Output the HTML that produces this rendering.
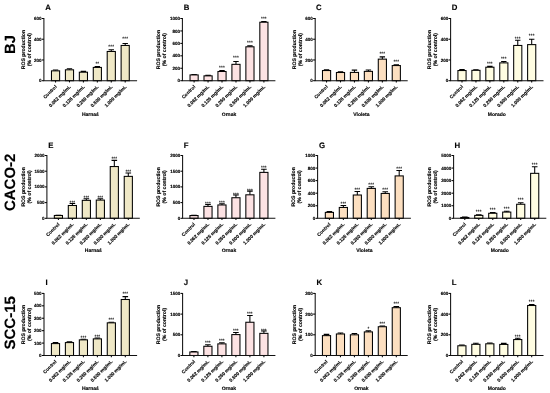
<!DOCTYPE html><html><head><meta charset="utf-8"><title>ROS production</title><style>html,body{margin:0;padding:0;background:#fff}svg{display:block}text{text-rendering:geometricPrecision;font-family:"Liberation Sans",Arial,sans-serif;font-weight:bold;fill:#000;stroke:#000;stroke-width:0.13px}.st{stroke:#000;stroke-width:0.12px;fill:#000;font-weight:normal}</style></head><body>
<svg width="550" height="393" viewBox="0 0 550 393">
<rect width="550" height="393" fill="#fff"/>
<text transform="translate(14.5,44.5) rotate(-90)" text-anchor="middle" font-size="14.8">BJ</text>
<text transform="translate(14.6,182.3) rotate(-90)" text-anchor="middle" font-size="15">CACO-2</text>
<text transform="translate(14.6,322.8) rotate(-90)" text-anchor="middle" font-size="15">SCC-15</text>
<g><text x="48.1" y="10.1" font-size="7.8" text-anchor="middle">A</text><path d="M55.55 70.85V70.02M52.85 70.02H58.25" stroke="#000" stroke-width="1.05" fill="none"/><rect x="51.47" y="70.85" width="8.15" height="9.85" fill="#efe8c6" stroke="#000" stroke-width="1.05"/><path d="M55.55 80.70v1.7" stroke="#000" stroke-width="1.05"/><text transform="translate(54.75,84.80) rotate(-45)" text-anchor="end" font-size="4.75" dy="0.7em">Control</text><path d="M69.48 69.81V68.78M66.78 68.78H72.18" stroke="#000" stroke-width="1.05" fill="none"/><rect x="65.41" y="69.81" width="8.15" height="10.89" fill="#efe8c6" stroke="#000" stroke-width="1.05"/><path d="M69.48 80.70v1.7" stroke="#000" stroke-width="1.05"/><text transform="translate(68.68,84.80) rotate(-45)" text-anchor="end" font-size="4.75" dy="0.7em">0.062 mg/mL</text><path d="M83.41 72.20V71.37M80.71 71.37H86.11" stroke="#000" stroke-width="1.05" fill="none"/><rect x="79.33" y="72.20" width="8.15" height="8.50" fill="#efe8c6" stroke="#000" stroke-width="1.05"/><path d="M83.41 80.70v1.7" stroke="#000" stroke-width="1.05"/><text transform="translate(82.61,84.80) rotate(-45)" text-anchor="end" font-size="4.75" dy="0.7em">0.125 mg/mL</text><path d="M97.34 67.43V66.60M94.64 66.60H100.04" stroke="#000" stroke-width="1.05" fill="none"/><rect x="93.27" y="67.43" width="8.15" height="13.27" fill="#efe8c6" stroke="#000" stroke-width="1.05"/><path d="M97.34 80.70v1.7" stroke="#000" stroke-width="1.05"/><text class="st" x="97.34" y="64.75" font-size="4.6" letter-spacing="0.16" text-anchor="middle">**</text><text transform="translate(96.54,84.80) rotate(-45)" text-anchor="end" font-size="4.75" dy="0.7em">0.250 mg/mL</text><path d="M111.27 51.47V49.81M108.57 49.81H113.97" stroke="#000" stroke-width="1.05" fill="none"/><rect x="107.20" y="51.47" width="8.15" height="29.23" fill="#efe8c6" stroke="#000" stroke-width="1.05"/><path d="M111.27 80.70v1.7" stroke="#000" stroke-width="1.05"/><text class="st" x="111.27" y="48.40" font-size="4.6" letter-spacing="0.16" text-anchor="middle">***</text><text transform="translate(110.47,84.80) rotate(-45)" text-anchor="end" font-size="4.75" dy="0.7em">0.500 mg/mL</text><path d="M125.20 45.45V43.59M122.50 43.59H127.90" stroke="#000" stroke-width="1.05" fill="none"/><rect x="121.12" y="45.45" width="8.15" height="35.25" fill="#efe8c6" stroke="#000" stroke-width="1.05"/><path d="M125.20 80.70v1.7" stroke="#000" stroke-width="1.05"/><text class="st" x="125.20" y="39.85" font-size="4.6" letter-spacing="0.16" text-anchor="middle">***</text><text transform="translate(124.40,84.80) rotate(-45)" text-anchor="end" font-size="4.75" dy="0.7em">1.000 mg/mL</text><path d="M43.90 18.05V80.70H137.10" stroke="#111" stroke-width="1.05" fill="none"/><path d="M43.90 80.70h-2.1" stroke="#000" stroke-width="1.05"/><text x="41.50" y="80.70" font-size="4.5" text-anchor="end" dy="0.35em">0</text><path d="M43.90 59.97h-2.1" stroke="#000" stroke-width="1.05"/><text x="41.50" y="59.97" font-size="4.5" text-anchor="end" dy="0.35em">200</text><path d="M43.90 39.23h-2.1" stroke="#000" stroke-width="1.05"/><text x="41.50" y="39.23" font-size="4.5" text-anchor="end" dy="0.35em">400</text><path d="M43.90 18.50h-2.1" stroke="#000" stroke-width="1.05"/><text x="41.50" y="18.50" font-size="4.5" text-anchor="end" dy="0.35em">600</text><text transform="translate(22.9,49.60) rotate(-90)" text-anchor="middle" font-size="5.15" dy="0.35em">ROS production</text><text transform="translate(28.9,49.60) rotate(-90)" text-anchor="middle" font-size="5.15" dy="0.35em">(% of control)</text><text x="90.38" y="115.6" font-size="5.0" text-anchor="middle">Harnaś</text></g>
<g><text x="186.6" y="10.1" font-size="7.8" text-anchor="middle">B</text><path d="M194.10 74.92V74.48M191.40 74.48H196.80" stroke="#000" stroke-width="1.05" fill="none"/><rect x="190.03" y="74.92" width="8.15" height="5.78" fill="#fce2e3" stroke="#000" stroke-width="1.05"/><path d="M194.10 80.70v1.7" stroke="#000" stroke-width="1.05"/><text transform="translate(193.30,84.80) rotate(-45)" text-anchor="end" font-size="4.75" dy="0.7em">Control</text><path d="M208.06 75.85V75.35M205.36 75.35H210.76" stroke="#000" stroke-width="1.05" fill="none"/><rect x="203.99" y="75.85" width="8.15" height="4.85" fill="#fce2e3" stroke="#000" stroke-width="1.05"/><path d="M208.06 80.70v1.7" stroke="#000" stroke-width="1.05"/><text transform="translate(207.26,84.80) rotate(-45)" text-anchor="end" font-size="4.75" dy="0.7em">0.062 mg/mL</text><path d="M222.02 71.49V70.56M219.32 70.56H224.72" stroke="#000" stroke-width="1.05" fill="none"/><rect x="217.94" y="71.49" width="8.15" height="9.21" fill="#fce2e3" stroke="#000" stroke-width="1.05"/><path d="M222.02 80.70v1.7" stroke="#000" stroke-width="1.05"/><text class="st" x="222.02" y="68.85" font-size="4.6" letter-spacing="0.16" text-anchor="middle">***</text><text transform="translate(221.22,84.80) rotate(-45)" text-anchor="end" font-size="4.75" dy="0.7em">0.125 mg/mL</text><path d="M235.98 64.34V61.54M233.28 61.54H238.68" stroke="#000" stroke-width="1.05" fill="none"/><rect x="231.91" y="64.34" width="8.15" height="16.36" fill="#fce2e3" stroke="#000" stroke-width="1.05"/><path d="M235.98 80.70v1.7" stroke="#000" stroke-width="1.05"/><text class="st" x="235.98" y="59.25" font-size="4.6" letter-spacing="0.16" text-anchor="middle">***</text><text transform="translate(235.18,84.80) rotate(-45)" text-anchor="end" font-size="4.75" dy="0.7em">0.250 mg/mL</text><path d="M249.94 46.80V45.87M247.24 45.87H252.64" stroke="#000" stroke-width="1.05" fill="none"/><rect x="245.87" y="46.80" width="8.15" height="33.90" fill="#fce2e3" stroke="#000" stroke-width="1.05"/><path d="M249.94 80.70v1.7" stroke="#000" stroke-width="1.05"/><text class="st" x="249.94" y="44.40" font-size="4.6" letter-spacing="0.16" text-anchor="middle">***</text><text transform="translate(249.14,84.80) rotate(-45)" text-anchor="end" font-size="4.75" dy="0.7em">0.500 mg/mL</text><path d="M263.90 22.23V21.49M261.20 21.49H266.60" stroke="#000" stroke-width="1.05" fill="none"/><rect x="259.82" y="22.23" width="8.15" height="58.47" fill="#fce2e3" stroke="#000" stroke-width="1.05"/><path d="M263.90 80.70v1.7" stroke="#000" stroke-width="1.05"/><text class="st" x="263.90" y="19.55" font-size="4.6" letter-spacing="0.16" text-anchor="middle">***</text><text transform="translate(263.10,84.80) rotate(-45)" text-anchor="end" font-size="4.75" dy="0.7em">1.000 mg/mL</text><path d="M182.40 18.05V80.70H275.40" stroke="#111" stroke-width="1.05" fill="none"/><path d="M182.40 80.70h-2.1" stroke="#000" stroke-width="1.05"/><text x="180.00" y="80.70" font-size="4.5" text-anchor="end" dy="0.35em">0</text><path d="M182.40 68.26h-2.1" stroke="#000" stroke-width="1.05"/><text x="180.00" y="68.26" font-size="4.5" text-anchor="end" dy="0.35em">200</text><path d="M182.40 55.82h-2.1" stroke="#000" stroke-width="1.05"/><text x="180.00" y="55.82" font-size="4.5" text-anchor="end" dy="0.35em">400</text><path d="M182.40 43.38h-2.1" stroke="#000" stroke-width="1.05"/><text x="180.00" y="43.38" font-size="4.5" text-anchor="end" dy="0.35em">600</text><path d="M182.40 30.94h-2.1" stroke="#000" stroke-width="1.05"/><text x="180.00" y="30.94" font-size="4.5" text-anchor="end" dy="0.35em">800</text><path d="M182.40 18.50h-2.1" stroke="#000" stroke-width="1.05"/><text x="180.00" y="18.50" font-size="4.5" text-anchor="end" dy="0.35em">1000</text><text transform="translate(158.4,49.60) rotate(-90)" text-anchor="middle" font-size="5.15" dy="0.35em">ROS production</text><text transform="translate(164.4,49.60) rotate(-90)" text-anchor="middle" font-size="5.15" dy="0.35em">(% of control)</text><text x="229.00" y="115.6" font-size="5.0" text-anchor="middle">Ornak</text></g>
<g><text x="318.9" y="10.1" font-size="7.8" text-anchor="middle">C</text><path d="M326.55 70.54V69.81M323.85 69.81H329.25" stroke="#000" stroke-width="1.05" fill="none"/><rect x="322.48" y="70.54" width="8.15" height="10.16" fill="#fcdfc0" stroke="#000" stroke-width="1.05"/><path d="M326.55 80.70v1.7" stroke="#000" stroke-width="1.05"/><text transform="translate(325.75,84.80) rotate(-45)" text-anchor="end" font-size="4.75" dy="0.7em">Control</text><path d="M340.50 72.51V71.78M337.80 71.78H343.20" stroke="#000" stroke-width="1.05" fill="none"/><rect x="336.43" y="72.51" width="8.15" height="8.19" fill="#fcdfc0" stroke="#000" stroke-width="1.05"/><path d="M340.50 80.70v1.7" stroke="#000" stroke-width="1.05"/><text transform="translate(339.70,84.80) rotate(-45)" text-anchor="end" font-size="4.75" dy="0.7em">0.062 mg/mL</text><path d="M354.45 72.41V70.13M351.75 70.13H357.15" stroke="#000" stroke-width="1.05" fill="none"/><rect x="350.38" y="72.41" width="8.15" height="8.29" fill="#fcdfc0" stroke="#000" stroke-width="1.05"/><path d="M354.45 80.70v1.7" stroke="#000" stroke-width="1.05"/><text transform="translate(353.65,84.80) rotate(-45)" text-anchor="end" font-size="4.75" dy="0.7em">0.125 mg/mL</text><path d="M368.40 71.37V69.92M365.70 69.92H371.10" stroke="#000" stroke-width="1.05" fill="none"/><rect x="364.32" y="71.37" width="8.15" height="9.33" fill="#fcdfc0" stroke="#000" stroke-width="1.05"/><path d="M368.40 80.70v1.7" stroke="#000" stroke-width="1.05"/><text transform="translate(367.60,84.80) rotate(-45)" text-anchor="end" font-size="4.75" dy="0.7em">0.250 mg/mL</text><path d="M382.35 59.14V56.86M379.65 56.86H385.05" stroke="#000" stroke-width="1.05" fill="none"/><rect x="378.28" y="59.14" width="8.15" height="21.56" fill="#fcdfc0" stroke="#000" stroke-width="1.05"/><path d="M382.35 80.70v1.7" stroke="#000" stroke-width="1.05"/><text class="st" x="382.35" y="55.05" font-size="4.6" letter-spacing="0.16" text-anchor="middle">***</text><text transform="translate(381.55,84.80) rotate(-45)" text-anchor="end" font-size="4.75" dy="0.7em">0.500 mg/mL</text><path d="M396.30 65.56V64.74M393.60 64.74H399.00" stroke="#000" stroke-width="1.05" fill="none"/><rect x="392.23" y="65.56" width="8.15" height="15.14" fill="#fcdfc0" stroke="#000" stroke-width="1.05"/><path d="M396.30 80.70v1.7" stroke="#000" stroke-width="1.05"/><text class="st" x="396.30" y="63.45" font-size="4.6" letter-spacing="0.16" text-anchor="middle">***</text><text transform="translate(395.50,84.80) rotate(-45)" text-anchor="end" font-size="4.75" dy="0.7em">1.000 mg/mL</text><path d="M315.20 18.05V80.70H407.70" stroke="#111" stroke-width="1.05" fill="none"/><path d="M315.20 80.70h-2.1" stroke="#000" stroke-width="1.05"/><text x="312.80" y="80.70" font-size="4.5" text-anchor="end" dy="0.35em">0</text><path d="M315.20 59.97h-2.1" stroke="#000" stroke-width="1.05"/><text x="312.80" y="59.97" font-size="4.5" text-anchor="end" dy="0.35em">200</text><path d="M315.20 39.23h-2.1" stroke="#000" stroke-width="1.05"/><text x="312.80" y="39.23" font-size="4.5" text-anchor="end" dy="0.35em">400</text><path d="M315.20 18.50h-2.1" stroke="#000" stroke-width="1.05"/><text x="312.80" y="18.50" font-size="4.5" text-anchor="end" dy="0.35em">600</text><text transform="translate(294.2,49.60) rotate(-90)" text-anchor="middle" font-size="5.15" dy="0.35em">ROS production</text><text transform="translate(300.2,49.60) rotate(-90)" text-anchor="middle" font-size="5.15" dy="0.35em">(% of control)</text><text x="361.43" y="115.6" font-size="5.0" text-anchor="middle">Violeta</text></g>
<g><text x="454.5" y="10.1" font-size="7.8" text-anchor="middle">D</text><path d="M462.00 70.54V69.50M459.30 69.50H464.70" stroke="#000" stroke-width="1.05" fill="none"/><rect x="457.93" y="70.54" width="8.15" height="10.16" fill="#fffde2" stroke="#000" stroke-width="1.05"/><path d="M462.00 80.70v1.7" stroke="#000" stroke-width="1.05"/><text transform="translate(461.20,84.80) rotate(-45)" text-anchor="end" font-size="4.75" dy="0.7em">Control</text><path d="M475.94 70.33V69.81M473.24 69.81H478.64" stroke="#000" stroke-width="1.05" fill="none"/><rect x="471.87" y="70.33" width="8.15" height="10.37" fill="#fffde2" stroke="#000" stroke-width="1.05"/><path d="M475.94 80.70v1.7" stroke="#000" stroke-width="1.05"/><text transform="translate(475.14,84.80) rotate(-45)" text-anchor="end" font-size="4.75" dy="0.7em">0.062 mg/mL</text><path d="M489.88 67.22V66.39M487.18 66.39H492.58" stroke="#000" stroke-width="1.05" fill="none"/><rect x="485.81" y="67.22" width="8.15" height="13.48" fill="#fffde2" stroke="#000" stroke-width="1.05"/><path d="M489.88 80.70v1.7" stroke="#000" stroke-width="1.05"/><text class="st" x="489.88" y="64.95" font-size="4.6" letter-spacing="0.16" text-anchor="middle">***</text><text transform="translate(489.08,84.80) rotate(-45)" text-anchor="end" font-size="4.75" dy="0.7em">0.125 mg/mL</text><path d="M503.82 62.87V61.52M501.12 61.52H506.52" stroke="#000" stroke-width="1.05" fill="none"/><rect x="499.75" y="62.87" width="8.15" height="17.83" fill="#fffde2" stroke="#000" stroke-width="1.05"/><path d="M503.82 80.70v1.7" stroke="#000" stroke-width="1.05"/><text class="st" x="503.82" y="59.65" font-size="4.6" letter-spacing="0.16" text-anchor="middle">***</text><text transform="translate(503.02,84.80) rotate(-45)" text-anchor="end" font-size="4.75" dy="0.7em">0.250 mg/mL</text><path d="M517.76 45.45V40.27M515.06 40.27H520.46" stroke="#000" stroke-width="1.05" fill="none"/><rect x="513.68" y="45.45" width="8.15" height="35.25" fill="#fffde2" stroke="#000" stroke-width="1.05"/><path d="M517.76 80.70v1.7" stroke="#000" stroke-width="1.05"/><text class="st" x="517.76" y="39.95" font-size="4.6" letter-spacing="0.16" text-anchor="middle">***</text><text transform="translate(516.96,84.80) rotate(-45)" text-anchor="end" font-size="4.75" dy="0.7em">0.500 mg/mL</text><path d="M531.70 44.62V39.23M529.00 39.23H534.40" stroke="#000" stroke-width="1.05" fill="none"/><rect x="527.62" y="44.62" width="8.15" height="36.08" fill="#fffde2" stroke="#000" stroke-width="1.05"/><path d="M531.70 80.70v1.7" stroke="#000" stroke-width="1.05"/><text class="st" x="531.70" y="37.05" font-size="4.6" letter-spacing="0.16" text-anchor="middle">***</text><text transform="translate(530.90,84.80) rotate(-45)" text-anchor="end" font-size="4.75" dy="0.7em">1.000 mg/mL</text><path d="M450.60 18.05V80.70H543.50" stroke="#111" stroke-width="1.05" fill="none"/><path d="M450.60 80.70h-2.1" stroke="#000" stroke-width="1.05"/><text x="448.20" y="80.70" font-size="4.5" text-anchor="end" dy="0.35em">0</text><path d="M450.60 59.97h-2.1" stroke="#000" stroke-width="1.05"/><text x="448.20" y="59.97" font-size="4.5" text-anchor="end" dy="0.35em">200</text><path d="M450.60 39.23h-2.1" stroke="#000" stroke-width="1.05"/><text x="448.20" y="39.23" font-size="4.5" text-anchor="end" dy="0.35em">400</text><path d="M450.60 18.50h-2.1" stroke="#000" stroke-width="1.05"/><text x="448.20" y="18.50" font-size="4.5" text-anchor="end" dy="0.35em">600</text><text transform="translate(429.6,49.60) rotate(-90)" text-anchor="middle" font-size="5.15" dy="0.35em">ROS production</text><text transform="translate(435.6,49.60) rotate(-90)" text-anchor="middle" font-size="5.15" dy="0.35em">(% of control)</text><text x="496.85" y="115.6" font-size="5.0" text-anchor="middle">Morado</text></g>
<g><text x="50.8" y="147.7" font-size="7.8" text-anchor="middle">E</text><path d="M58.40 215.47V215.16M55.60 215.16H61.20" stroke="#000" stroke-width="1.05" fill="none"/><rect x="54.33" y="215.47" width="8.15" height="2.83" fill="#efe8c6" stroke="#000" stroke-width="1.05"/><path d="M58.40 218.30v1.7" stroke="#000" stroke-width="1.05"/><text transform="translate(57.60,222.40) rotate(-45)" text-anchor="end" font-size="4.75" dy="0.7em">Control</text><path d="M72.38 205.49V203.54M69.58 203.54H75.18" stroke="#000" stroke-width="1.05" fill="none"/><rect x="68.30" y="205.49" width="8.15" height="12.81" fill="#efe8c6" stroke="#000" stroke-width="1.05"/><path d="M72.38 218.30v1.7" stroke="#000" stroke-width="1.05"/><text class="st" x="72.38" y="203.65" font-size="4.6" letter-spacing="0.16" text-anchor="middle">***</text><text transform="translate(71.58,222.40) rotate(-45)" text-anchor="end" font-size="4.75" dy="0.7em">0.062 mg/mL</text><path d="M86.36 200.34V198.83M83.56 198.83H89.16" stroke="#000" stroke-width="1.05" fill="none"/><rect x="82.28" y="200.34" width="8.15" height="17.96" fill="#efe8c6" stroke="#000" stroke-width="1.05"/><path d="M86.36 218.30v1.7" stroke="#000" stroke-width="1.05"/><text class="st" x="86.36" y="199.05" font-size="4.6" letter-spacing="0.16" text-anchor="middle">***</text><text transform="translate(85.56,222.40) rotate(-45)" text-anchor="end" font-size="4.75" dy="0.7em">0.125 mg/mL</text><path d="M100.34 200.09V198.77M97.54 198.77H103.14" stroke="#000" stroke-width="1.05" fill="none"/><rect x="96.27" y="200.09" width="8.15" height="18.21" fill="#efe8c6" stroke="#000" stroke-width="1.05"/><path d="M100.34 218.30v1.7" stroke="#000" stroke-width="1.05"/><text class="st" x="100.34" y="199.05" font-size="4.6" letter-spacing="0.16" text-anchor="middle">***</text><text transform="translate(99.54,222.40) rotate(-45)" text-anchor="end" font-size="4.75" dy="0.7em">0.250 mg/mL</text><path d="M114.32 166.55V160.37M111.52 160.37H117.12" stroke="#000" stroke-width="1.05" fill="none"/><rect x="110.24" y="166.55" width="8.15" height="51.75" fill="#efe8c6" stroke="#000" stroke-width="1.05"/><path d="M114.32 218.30v1.7" stroke="#000" stroke-width="1.05"/><text class="st" x="114.32" y="160.45" font-size="4.6" letter-spacing="0.16" text-anchor="middle">***</text><text transform="translate(113.52,222.40) rotate(-45)" text-anchor="end" font-size="4.75" dy="0.7em">0.500 mg/mL</text><path d="M128.30 176.38V172.90M125.50 172.90H131.10" stroke="#000" stroke-width="1.05" fill="none"/><rect x="124.23" y="176.38" width="8.15" height="41.92" fill="#efe8c6" stroke="#000" stroke-width="1.05"/><path d="M128.30 218.30v1.7" stroke="#000" stroke-width="1.05"/><text class="st" x="128.30" y="173.15" font-size="4.6" letter-spacing="0.16" text-anchor="middle">***</text><text transform="translate(127.50,222.40) rotate(-45)" text-anchor="end" font-size="4.75" dy="0.7em">1.000 mg/mL</text><path d="M46.90 155.05V218.30H139.80" stroke="#111" stroke-width="1.05" fill="none"/><path d="M46.90 218.30h-2.1" stroke="#000" stroke-width="1.05"/><text x="44.50" y="218.30" font-size="4.5" text-anchor="end" dy="0.35em">0</text><path d="M46.90 202.60h-2.1" stroke="#000" stroke-width="1.05"/><text x="44.50" y="202.60" font-size="4.5" text-anchor="end" dy="0.35em">500</text><path d="M46.90 186.90h-2.1" stroke="#000" stroke-width="1.05"/><text x="44.50" y="186.90" font-size="4.5" text-anchor="end" dy="0.35em">1000</text><path d="M46.90 171.20h-2.1" stroke="#000" stroke-width="1.05"/><text x="44.50" y="171.20" font-size="4.5" text-anchor="end" dy="0.35em">1500</text><path d="M46.90 155.50h-2.1" stroke="#000" stroke-width="1.05"/><text x="44.50" y="155.50" font-size="4.5" text-anchor="end" dy="0.35em">2000</text><text transform="translate(22.9,186.90) rotate(-90)" text-anchor="middle" font-size="5.15" dy="0.35em">ROS production</text><text transform="translate(28.9,186.90) rotate(-90)" text-anchor="middle" font-size="5.15" dy="0.35em">(% of control)</text><text x="93.35" y="252.3" font-size="5.0" text-anchor="middle">Harnaś</text></g>
<g><text x="186.2" y="147.7" font-size="7.8" text-anchor="middle">F</text><path d="M194.00 215.54V215.22M191.20 215.22H196.80" stroke="#000" stroke-width="1.05" fill="none"/><rect x="189.93" y="215.54" width="8.15" height="2.76" fill="#fce2e3" stroke="#000" stroke-width="1.05"/><path d="M194.00 218.30v1.7" stroke="#000" stroke-width="1.05"/><text transform="translate(193.20,222.40) rotate(-45)" text-anchor="end" font-size="4.75" dy="0.7em">Control</text><path d="M207.98 206.37V204.55M205.18 204.55H210.78" stroke="#000" stroke-width="1.05" fill="none"/><rect x="203.91" y="206.37" width="8.15" height="11.93" fill="#fce2e3" stroke="#000" stroke-width="1.05"/><path d="M207.98 218.30v1.7" stroke="#000" stroke-width="1.05"/><text class="st" x="207.98" y="204.85" font-size="4.6" letter-spacing="0.16" text-anchor="middle">***</text><text transform="translate(207.18,222.40) rotate(-45)" text-anchor="end" font-size="4.75" dy="0.7em">0.062 mg/mL</text><path d="M221.96 204.96V203.67M219.16 203.67H224.76" stroke="#000" stroke-width="1.05" fill="none"/><rect x="217.88" y="204.96" width="8.15" height="13.34" fill="#fce2e3" stroke="#000" stroke-width="1.05"/><path d="M221.96 218.30v1.7" stroke="#000" stroke-width="1.05"/><text class="st" x="221.96" y="204.15" font-size="4.6" letter-spacing="0.16" text-anchor="middle">***</text><text transform="translate(221.16,222.40) rotate(-45)" text-anchor="end" font-size="4.75" dy="0.7em">0.125 mg/mL</text><path d="M235.94 197.73V195.00M233.14 195.00H238.74" stroke="#000" stroke-width="1.05" fill="none"/><rect x="231.87" y="197.73" width="8.15" height="20.57" fill="#fce2e3" stroke="#000" stroke-width="1.05"/><path d="M235.94 218.30v1.7" stroke="#000" stroke-width="1.05"/><text class="st" x="235.94" y="195.55" font-size="4.6" letter-spacing="0.16" text-anchor="middle">***</text><text transform="translate(235.14,222.40) rotate(-45)" text-anchor="end" font-size="4.75" dy="0.7em">0.250 mg/mL</text><path d="M249.92 194.81V191.11M247.12 191.11H252.72" stroke="#000" stroke-width="1.05" fill="none"/><rect x="245.84" y="194.81" width="8.15" height="23.49" fill="#fce2e3" stroke="#000" stroke-width="1.05"/><path d="M249.92 218.30v1.7" stroke="#000" stroke-width="1.05"/><text class="st" x="249.92" y="191.95" font-size="4.6" letter-spacing="0.16" text-anchor="middle">***</text><text transform="translate(249.12,222.40) rotate(-45)" text-anchor="end" font-size="4.75" dy="0.7em">0.500 mg/mL</text><path d="M263.90 172.39V169.32M261.10 169.32H266.70" stroke="#000" stroke-width="1.05" fill="none"/><rect x="259.82" y="172.39" width="8.15" height="45.91" fill="#fce2e3" stroke="#000" stroke-width="1.05"/><path d="M263.90 218.30v1.7" stroke="#000" stroke-width="1.05"/><text class="st" x="263.90" y="168.65" font-size="4.6" letter-spacing="0.16" text-anchor="middle">***</text><text transform="translate(263.10,222.40) rotate(-45)" text-anchor="end" font-size="4.75" dy="0.7em">1.000 mg/mL</text><path d="M182.60 155.05V218.30H275.40" stroke="#111" stroke-width="1.05" fill="none"/><path d="M182.60 218.30h-2.1" stroke="#000" stroke-width="1.05"/><text x="180.20" y="218.30" font-size="4.5" text-anchor="end" dy="0.35em">0</text><path d="M182.60 202.60h-2.1" stroke="#000" stroke-width="1.05"/><text x="180.20" y="202.60" font-size="4.5" text-anchor="end" dy="0.35em">500</text><path d="M182.60 186.90h-2.1" stroke="#000" stroke-width="1.05"/><text x="180.20" y="186.90" font-size="4.5" text-anchor="end" dy="0.35em">1000</text><path d="M182.60 171.20h-2.1" stroke="#000" stroke-width="1.05"/><text x="180.20" y="171.20" font-size="4.5" text-anchor="end" dy="0.35em">1500</text><path d="M182.60 155.50h-2.1" stroke="#000" stroke-width="1.05"/><text x="180.20" y="155.50" font-size="4.5" text-anchor="end" dy="0.35em">2000</text><text transform="translate(158.6,186.90) rotate(-90)" text-anchor="middle" font-size="5.15" dy="0.35em">ROS production</text><text transform="translate(164.6,186.90) rotate(-90)" text-anchor="middle" font-size="5.15" dy="0.35em">(% of control)</text><text x="228.95" y="252.3" font-size="5.0" text-anchor="middle">Ornak</text></g>
<g><text x="322.1" y="147.7" font-size="7.8" text-anchor="middle">G</text><path d="M329.40 212.40V211.52M326.60 211.52H332.20" stroke="#000" stroke-width="1.05" fill="none"/><rect x="325.32" y="212.40" width="8.15" height="5.90" fill="#fcdfc0" stroke="#000" stroke-width="1.05"/><path d="M329.40 218.30v1.7" stroke="#000" stroke-width="1.05"/><text transform="translate(328.60,222.40) rotate(-45)" text-anchor="end" font-size="4.75" dy="0.7em">Control</text><path d="M343.36 207.44V205.55M340.56 205.55H346.16" stroke="#000" stroke-width="1.05" fill="none"/><rect x="339.28" y="207.44" width="8.15" height="10.86" fill="#fcdfc0" stroke="#000" stroke-width="1.05"/><path d="M343.36 218.30v1.7" stroke="#000" stroke-width="1.05"/><text class="st" x="343.36" y="205.15" font-size="4.6" letter-spacing="0.16" text-anchor="middle">***</text><text transform="translate(342.56,222.40) rotate(-45)" text-anchor="end" font-size="4.75" dy="0.7em">0.062 mg/mL</text><path d="M357.32 195.00V191.42M354.52 191.42H360.12" stroke="#000" stroke-width="1.05" fill="none"/><rect x="353.25" y="195.00" width="8.15" height="23.30" fill="#fcdfc0" stroke="#000" stroke-width="1.05"/><path d="M357.32 218.30v1.7" stroke="#000" stroke-width="1.05"/><text class="st" x="357.32" y="190.65" font-size="4.6" letter-spacing="0.16" text-anchor="middle">***</text><text transform="translate(356.52,222.40) rotate(-45)" text-anchor="end" font-size="4.75" dy="0.7em">0.125 mg/mL</text><path d="M371.28 188.41V186.77M368.48 186.77H374.08" stroke="#000" stroke-width="1.05" fill="none"/><rect x="367.20" y="188.41" width="8.15" height="29.89" fill="#fcdfc0" stroke="#000" stroke-width="1.05"/><path d="M371.28 218.30v1.7" stroke="#000" stroke-width="1.05"/><text class="st" x="371.28" y="186.45" font-size="4.6" letter-spacing="0.16" text-anchor="middle">***</text><text transform="translate(370.48,222.40) rotate(-45)" text-anchor="end" font-size="4.75" dy="0.7em">0.250 mg/mL</text><path d="M385.24 193.43V191.80M382.44 191.80H388.04" stroke="#000" stroke-width="1.05" fill="none"/><rect x="381.17" y="193.43" width="8.15" height="24.87" fill="#fcdfc0" stroke="#000" stroke-width="1.05"/><path d="M385.24 218.30v1.7" stroke="#000" stroke-width="1.05"/><text class="st" x="385.24" y="190.65" font-size="4.6" letter-spacing="0.16" text-anchor="middle">***</text><text transform="translate(384.44,222.40) rotate(-45)" text-anchor="end" font-size="4.75" dy="0.7em">0.500 mg/mL</text><path d="M399.20 175.91V170.45M396.40 170.45H402.00" stroke="#000" stroke-width="1.05" fill="none"/><rect x="395.12" y="175.91" width="8.15" height="42.39" fill="#fcdfc0" stroke="#000" stroke-width="1.05"/><path d="M399.20 218.30v1.7" stroke="#000" stroke-width="1.05"/><text class="st" x="399.20" y="169.75" font-size="4.6" letter-spacing="0.16" text-anchor="middle">***</text><text transform="translate(398.40,222.40) rotate(-45)" text-anchor="end" font-size="4.75" dy="0.7em">1.000 mg/mL</text><path d="M317.60 155.05V218.30H410.90" stroke="#111" stroke-width="1.05" fill="none"/><path d="M317.60 218.30h-2.1" stroke="#000" stroke-width="1.05"/><text x="315.20" y="218.30" font-size="4.5" text-anchor="end" dy="0.35em">0</text><path d="M317.60 205.74h-2.1" stroke="#000" stroke-width="1.05"/><text x="315.20" y="205.74" font-size="4.5" text-anchor="end" dy="0.35em">200</text><path d="M317.60 193.18h-2.1" stroke="#000" stroke-width="1.05"/><text x="315.20" y="193.18" font-size="4.5" text-anchor="end" dy="0.35em">400</text><path d="M317.60 180.62h-2.1" stroke="#000" stroke-width="1.05"/><text x="315.20" y="180.62" font-size="4.5" text-anchor="end" dy="0.35em">600</text><path d="M317.60 168.06h-2.1" stroke="#000" stroke-width="1.05"/><text x="315.20" y="168.06" font-size="4.5" text-anchor="end" dy="0.35em">800</text><path d="M317.60 155.50h-2.1" stroke="#000" stroke-width="1.05"/><text x="315.20" y="155.50" font-size="4.5" text-anchor="end" dy="0.35em">1000</text><text transform="translate(293.6,186.90) rotate(-90)" text-anchor="middle" font-size="5.15" dy="0.35em">ROS production</text><text transform="translate(299.6,186.90) rotate(-90)" text-anchor="middle" font-size="5.15" dy="0.35em">(% of control)</text><text x="364.30" y="252.3" font-size="5.0" text-anchor="middle">Violeta</text></g>
<g><text x="457.4" y="147.7" font-size="7.8" text-anchor="middle">H</text><path d="M464.80 217.48V217.11M462.00 217.11H467.60" stroke="#000" stroke-width="1.05" fill="none"/><rect x="460.73" y="217.48" width="8.15" height="0.82" fill="#fffde2" stroke="#000" stroke-width="1.05"/><path d="M464.80 218.30v1.7" stroke="#000" stroke-width="1.05"/><text transform="translate(464.00,222.40) rotate(-45)" text-anchor="end" font-size="4.75" dy="0.7em">Control</text><path d="M478.78 215.39V214.66M475.98 214.66H481.58" stroke="#000" stroke-width="1.05" fill="none"/><rect x="474.71" y="215.39" width="8.15" height="2.91" fill="#fffde2" stroke="#000" stroke-width="1.05"/><path d="M478.78 218.30v1.7" stroke="#000" stroke-width="1.05"/><text class="st" x="478.78" y="213.25" font-size="4.6" letter-spacing="0.16" text-anchor="middle">***</text><text transform="translate(477.98,222.40) rotate(-45)" text-anchor="end" font-size="4.75" dy="0.7em">0.062 mg/mL</text><path d="M492.76 213.28V212.59M489.96 212.59H495.56" stroke="#000" stroke-width="1.05" fill="none"/><rect x="488.69" y="213.28" width="8.15" height="5.02" fill="#fffde2" stroke="#000" stroke-width="1.05"/><path d="M492.76 218.30v1.7" stroke="#000" stroke-width="1.05"/><text class="st" x="492.76" y="211.35" font-size="4.6" letter-spacing="0.16" text-anchor="middle">***</text><text transform="translate(491.96,222.40) rotate(-45)" text-anchor="end" font-size="4.75" dy="0.7em">0.125 mg/mL</text><path d="M506.74 212.08V211.33M503.94 211.33H509.54" stroke="#000" stroke-width="1.05" fill="none"/><rect x="502.67" y="212.08" width="8.15" height="6.22" fill="#fffde2" stroke="#000" stroke-width="1.05"/><path d="M506.74 218.30v1.7" stroke="#000" stroke-width="1.05"/><text class="st" x="506.74" y="209.75" font-size="4.6" letter-spacing="0.16" text-anchor="middle">***</text><text transform="translate(505.94,222.40) rotate(-45)" text-anchor="end" font-size="4.75" dy="0.7em">0.250 mg/mL</text><path d="M520.72 204.26V202.66M517.92 202.66H523.52" stroke="#000" stroke-width="1.05" fill="none"/><rect x="516.64" y="204.26" width="8.15" height="14.04" fill="#fffde2" stroke="#000" stroke-width="1.05"/><path d="M520.72 218.30v1.7" stroke="#000" stroke-width="1.05"/><text class="st" x="520.72" y="201.35" font-size="4.6" letter-spacing="0.16" text-anchor="middle">***</text><text transform="translate(519.92,222.40) rotate(-45)" text-anchor="end" font-size="4.75" dy="0.7em">0.500 mg/mL</text><path d="M534.70 173.34V166.80M531.90 166.80H537.50" stroke="#000" stroke-width="1.05" fill="none"/><rect x="530.62" y="173.34" width="8.15" height="44.96" fill="#fffde2" stroke="#000" stroke-width="1.05"/><path d="M534.70 218.30v1.7" stroke="#000" stroke-width="1.05"/><text class="st" x="534.70" y="165.85" font-size="4.6" letter-spacing="0.16" text-anchor="middle">***</text><text transform="translate(533.90,222.40) rotate(-45)" text-anchor="end" font-size="4.75" dy="0.7em">1.000 mg/mL</text><path d="M453.60 155.05V218.30H546.30" stroke="#111" stroke-width="1.05" fill="none"/><path d="M453.60 218.30h-2.1" stroke="#000" stroke-width="1.05"/><text x="451.20" y="218.30" font-size="4.5" text-anchor="end" dy="0.35em">0</text><path d="M453.60 205.74h-2.1" stroke="#000" stroke-width="1.05"/><text x="451.20" y="205.74" font-size="4.5" text-anchor="end" dy="0.35em">1000</text><path d="M453.60 193.18h-2.1" stroke="#000" stroke-width="1.05"/><text x="451.20" y="193.18" font-size="4.5" text-anchor="end" dy="0.35em">2000</text><path d="M453.60 180.62h-2.1" stroke="#000" stroke-width="1.05"/><text x="451.20" y="180.62" font-size="4.5" text-anchor="end" dy="0.35em">3000</text><path d="M453.60 168.06h-2.1" stroke="#000" stroke-width="1.05"/><text x="451.20" y="168.06" font-size="4.5" text-anchor="end" dy="0.35em">4000</text><path d="M453.60 155.50h-2.1" stroke="#000" stroke-width="1.05"/><text x="451.20" y="155.50" font-size="4.5" text-anchor="end" dy="0.35em">5000</text><text transform="translate(429.6,186.90) rotate(-90)" text-anchor="middle" font-size="5.15" dy="0.35em">ROS production</text><text transform="translate(435.6,186.90) rotate(-90)" text-anchor="middle" font-size="5.15" dy="0.35em">(% of control)</text><text x="499.75" y="252.3" font-size="5.0" text-anchor="middle">Morado</text></g>
<g><text x="46.5" y="285.0" font-size="7.8" text-anchor="middle">I</text><path d="M55.50 343.58V342.58M52.70 342.58H58.30" stroke="#000" stroke-width="1.05" fill="none"/><rect x="51.42" y="343.58" width="8.15" height="11.92" fill="#efe8c6" stroke="#000" stroke-width="1.05"/><path d="M55.50 355.50v1.7" stroke="#000" stroke-width="1.05"/><text transform="translate(54.70,359.60) rotate(-45)" text-anchor="end" font-size="4.75" dy="0.7em">Control</text><path d="M69.46 342.58V341.71M66.66 341.71H72.26" stroke="#000" stroke-width="1.05" fill="none"/><rect x="65.38" y="342.58" width="8.15" height="12.92" fill="#efe8c6" stroke="#000" stroke-width="1.05"/><path d="M69.46 355.50v1.7" stroke="#000" stroke-width="1.05"/><text transform="translate(68.66,359.60) rotate(-45)" text-anchor="end" font-size="4.75" dy="0.7em">0.062 mg/mL</text><path d="M83.42 339.85V339.23M80.62 339.23H86.22" stroke="#000" stroke-width="1.05" fill="none"/><rect x="79.34" y="339.85" width="8.15" height="15.65" fill="#efe8c6" stroke="#000" stroke-width="1.05"/><path d="M83.42 355.50v1.7" stroke="#000" stroke-width="1.05"/><text class="st" x="83.42" y="338.55" font-size="4.6" letter-spacing="0.16" text-anchor="middle">***</text><text transform="translate(82.62,359.60) rotate(-45)" text-anchor="end" font-size="4.75" dy="0.7em">0.125 mg/mL</text><path d="M97.38 338.86V337.99M94.58 337.99H100.18" stroke="#000" stroke-width="1.05" fill="none"/><rect x="93.30" y="338.86" width="8.15" height="16.64" fill="#efe8c6" stroke="#000" stroke-width="1.05"/><path d="M97.38 355.50v1.7" stroke="#000" stroke-width="1.05"/><text class="st" x="97.38" y="338.15" font-size="4.6" letter-spacing="0.16" text-anchor="middle">***</text><text transform="translate(96.58,359.60) rotate(-45)" text-anchor="end" font-size="4.75" dy="0.7em">0.250 mg/mL</text><path d="M111.34 322.84V322.21M108.54 322.21H114.14" stroke="#000" stroke-width="1.05" fill="none"/><rect x="107.27" y="322.84" width="8.15" height="32.66" fill="#efe8c6" stroke="#000" stroke-width="1.05"/><path d="M111.34 355.50v1.7" stroke="#000" stroke-width="1.05"/><text class="st" x="111.34" y="321.05" font-size="4.6" letter-spacing="0.16" text-anchor="middle">***</text><text transform="translate(110.54,359.60) rotate(-45)" text-anchor="end" font-size="4.75" dy="0.7em">0.500 mg/mL</text><path d="M125.30 299.49V296.63M122.50 296.63H128.10" stroke="#000" stroke-width="1.05" fill="none"/><rect x="121.22" y="299.49" width="8.15" height="56.01" fill="#efe8c6" stroke="#000" stroke-width="1.05"/><path d="M125.30 355.50v1.7" stroke="#000" stroke-width="1.05"/><text class="st" x="125.30" y="294.95" font-size="4.6" letter-spacing="0.16" text-anchor="middle">***</text><text transform="translate(124.50,359.60) rotate(-45)" text-anchor="end" font-size="4.75" dy="0.7em">1.000 mg/mL</text><path d="M44.00 292.95V355.50H137.10" stroke="#111" stroke-width="1.05" fill="none"/><path d="M44.00 355.50h-2.1" stroke="#000" stroke-width="1.05"/><text x="41.60" y="355.50" font-size="4.5" text-anchor="end" dy="0.35em">0</text><path d="M44.00 343.08h-2.1" stroke="#000" stroke-width="1.05"/><text x="41.60" y="343.08" font-size="4.5" text-anchor="end" dy="0.35em">100</text><path d="M44.00 330.66h-2.1" stroke="#000" stroke-width="1.05"/><text x="41.60" y="330.66" font-size="4.5" text-anchor="end" dy="0.35em">200</text><path d="M44.00 318.24h-2.1" stroke="#000" stroke-width="1.05"/><text x="41.60" y="318.24" font-size="4.5" text-anchor="end" dy="0.35em">300</text><path d="M44.00 305.82h-2.1" stroke="#000" stroke-width="1.05"/><text x="41.60" y="305.82" font-size="4.5" text-anchor="end" dy="0.35em">400</text><path d="M44.00 293.40h-2.1" stroke="#000" stroke-width="1.05"/><text x="41.60" y="293.40" font-size="4.5" text-anchor="end" dy="0.35em">500</text><text transform="translate(23.0,324.45) rotate(-90)" text-anchor="middle" font-size="5.15" dy="0.35em">ROS production</text><text transform="translate(29.0,324.45) rotate(-90)" text-anchor="middle" font-size="5.15" dy="0.35em">(% of control)</text><text x="90.40" y="389.6" font-size="5.0" text-anchor="middle">Harnaś</text></g>
<g><text x="186.0" y="285.0" font-size="7.8" text-anchor="middle">J</text><path d="M193.90 351.98V351.40M191.10 351.40H196.70" stroke="#000" stroke-width="1.05" fill="none"/><rect x="189.83" y="351.98" width="8.15" height="3.52" fill="#fce2e3" stroke="#000" stroke-width="1.05"/><path d="M193.90 355.50v1.7" stroke="#000" stroke-width="1.05"/><text transform="translate(193.10,359.60) rotate(-45)" text-anchor="end" font-size="4.75" dy="0.7em">Control</text><path d="M207.90 346.27V344.82M205.10 344.82H210.70" stroke="#000" stroke-width="1.05" fill="none"/><rect x="203.83" y="346.27" width="8.15" height="9.23" fill="#fce2e3" stroke="#000" stroke-width="1.05"/><path d="M207.90 355.50v1.7" stroke="#000" stroke-width="1.05"/><text class="st" x="207.90" y="344.35" font-size="4.6" letter-spacing="0.16" text-anchor="middle">***</text><text transform="translate(207.10,359.60) rotate(-45)" text-anchor="end" font-size="4.75" dy="0.7em">0.062 mg/mL</text><path d="M221.90 343.87V342.83M219.10 342.83H224.70" stroke="#000" stroke-width="1.05" fill="none"/><rect x="217.83" y="343.87" width="8.15" height="11.63" fill="#fce2e3" stroke="#000" stroke-width="1.05"/><path d="M221.90 355.50v1.7" stroke="#000" stroke-width="1.05"/><text class="st" x="221.90" y="342.05" font-size="4.6" letter-spacing="0.16" text-anchor="middle">***</text><text transform="translate(221.10,359.60) rotate(-45)" text-anchor="end" font-size="4.75" dy="0.7em">0.125 mg/mL</text><path d="M235.90 334.59V332.48M233.10 332.48H238.70" stroke="#000" stroke-width="1.05" fill="none"/><rect x="231.82" y="334.59" width="8.15" height="20.91" fill="#fce2e3" stroke="#000" stroke-width="1.05"/><path d="M235.90 355.50v1.7" stroke="#000" stroke-width="1.05"/><text class="st" x="235.90" y="331.55" font-size="4.6" letter-spacing="0.16" text-anchor="middle">***</text><text transform="translate(235.10,359.60) rotate(-45)" text-anchor="end" font-size="4.75" dy="0.7em">0.250 mg/mL</text><path d="M249.90 322.26V315.59M247.10 315.59H252.70" stroke="#000" stroke-width="1.05" fill="none"/><rect x="245.82" y="322.26" width="8.15" height="33.24" fill="#fce2e3" stroke="#000" stroke-width="1.05"/><path d="M249.90 355.50v1.7" stroke="#000" stroke-width="1.05"/><text class="st" x="249.90" y="314.75" font-size="4.6" letter-spacing="0.16" text-anchor="middle">***</text><text transform="translate(249.10,359.60) rotate(-45)" text-anchor="end" font-size="4.75" dy="0.7em">0.500 mg/mL</text><path d="M263.90 333.35V330.99M261.10 330.99H266.70" stroke="#000" stroke-width="1.05" fill="none"/><rect x="259.82" y="333.35" width="8.15" height="22.15" fill="#fce2e3" stroke="#000" stroke-width="1.05"/><path d="M263.90 355.50v1.7" stroke="#000" stroke-width="1.05"/><text class="st" x="263.90" y="331.85" font-size="4.6" letter-spacing="0.16" text-anchor="middle">***</text><text transform="translate(263.10,359.60) rotate(-45)" text-anchor="end" font-size="4.75" dy="0.7em">1.000 mg/mL</text><path d="M182.60 292.95V355.50H275.40" stroke="#111" stroke-width="1.05" fill="none"/><path d="M182.60 355.50h-2.1" stroke="#000" stroke-width="1.05"/><text x="180.20" y="355.50" font-size="4.5" text-anchor="end" dy="0.35em">0</text><path d="M182.60 334.80h-2.1" stroke="#000" stroke-width="1.05"/><text x="180.20" y="334.80" font-size="4.5" text-anchor="end" dy="0.35em">500</text><path d="M182.60 314.10h-2.1" stroke="#000" stroke-width="1.05"/><text x="180.20" y="314.10" font-size="4.5" text-anchor="end" dy="0.35em">1000</text><path d="M182.60 293.40h-2.1" stroke="#000" stroke-width="1.05"/><text x="180.20" y="293.40" font-size="4.5" text-anchor="end" dy="0.35em">1500</text><text transform="translate(158.6,324.45) rotate(-90)" text-anchor="middle" font-size="5.15" dy="0.35em">ROS production</text><text transform="translate(164.6,324.45) rotate(-90)" text-anchor="middle" font-size="5.15" dy="0.35em">(% of control)</text><text x="228.90" y="389.6" font-size="5.0" text-anchor="middle">Ornak</text></g>
<g><text x="319.4" y="285.0" font-size="7.8" text-anchor="middle">K</text><path d="M326.50 335.63V334.39M323.70 334.39H329.30" stroke="#000" stroke-width="1.05" fill="none"/><rect x="322.43" y="335.63" width="8.15" height="19.87" fill="#fcdfc0" stroke="#000" stroke-width="1.05"/><path d="M326.50 355.50v1.7" stroke="#000" stroke-width="1.05"/><text transform="translate(325.70,359.60) rotate(-45)" text-anchor="end" font-size="4.75" dy="0.7em">Control</text><path d="M340.46 333.97V332.94M337.66 332.94H343.26" stroke="#000" stroke-width="1.05" fill="none"/><rect x="336.38" y="333.97" width="8.15" height="21.53" fill="#fcdfc0" stroke="#000" stroke-width="1.05"/><path d="M340.46 355.50v1.7" stroke="#000" stroke-width="1.05"/><text transform="translate(339.66,359.60) rotate(-45)" text-anchor="end" font-size="4.75" dy="0.7em">0.062 mg/mL</text><path d="M354.42 334.80V333.56M351.62 333.56H357.22" stroke="#000" stroke-width="1.05" fill="none"/><rect x="350.35" y="334.80" width="8.15" height="20.70" fill="#fcdfc0" stroke="#000" stroke-width="1.05"/><path d="M354.42 355.50v1.7" stroke="#000" stroke-width="1.05"/><text transform="translate(353.62,359.60) rotate(-45)" text-anchor="end" font-size="4.75" dy="0.7em">0.125 mg/mL</text><path d="M368.38 331.90V330.87M365.58 330.87H371.18" stroke="#000" stroke-width="1.05" fill="none"/><rect x="364.31" y="331.90" width="8.15" height="23.60" fill="#fcdfc0" stroke="#000" stroke-width="1.05"/><path d="M368.38 355.50v1.7" stroke="#000" stroke-width="1.05"/><text class="st" x="368.38" y="329.55" font-size="4.6" letter-spacing="0.16" text-anchor="middle">*</text><text transform="translate(367.58,359.60) rotate(-45)" text-anchor="end" font-size="4.75" dy="0.7em">0.250 mg/mL</text><path d="M382.34 326.73V325.90M379.54 325.90H385.14" stroke="#000" stroke-width="1.05" fill="none"/><rect x="378.27" y="326.73" width="8.15" height="28.77" fill="#fcdfc0" stroke="#000" stroke-width="1.05"/><path d="M382.34 355.50v1.7" stroke="#000" stroke-width="1.05"/><text class="st" x="382.34" y="325.25" font-size="4.6" letter-spacing="0.16" text-anchor="middle">***</text><text transform="translate(381.54,359.60) rotate(-45)" text-anchor="end" font-size="4.75" dy="0.7em">0.500 mg/mL</text><path d="M396.30 307.68V306.44M393.50 306.44H399.10" stroke="#000" stroke-width="1.05" fill="none"/><rect x="392.23" y="307.68" width="8.15" height="47.82" fill="#fcdfc0" stroke="#000" stroke-width="1.05"/><path d="M396.30 355.50v1.7" stroke="#000" stroke-width="1.05"/><text class="st" x="396.30" y="304.65" font-size="4.6" letter-spacing="0.16" text-anchor="middle">***</text><text transform="translate(395.50,359.60) rotate(-45)" text-anchor="end" font-size="4.75" dy="0.7em">1.000 mg/mL</text><path d="M315.20 292.95V355.50H407.70" stroke="#111" stroke-width="1.05" fill="none"/><path d="M315.20 355.50h-2.1" stroke="#000" stroke-width="1.05"/><text x="312.80" y="355.50" font-size="4.5" text-anchor="end" dy="0.35em">0</text><path d="M315.20 334.80h-2.1" stroke="#000" stroke-width="1.05"/><text x="312.80" y="334.80" font-size="4.5" text-anchor="end" dy="0.35em">100</text><path d="M315.20 314.10h-2.1" stroke="#000" stroke-width="1.05"/><text x="312.80" y="314.10" font-size="4.5" text-anchor="end" dy="0.35em">200</text><path d="M315.20 293.40h-2.1" stroke="#000" stroke-width="1.05"/><text x="312.80" y="293.40" font-size="4.5" text-anchor="end" dy="0.35em">300</text><text transform="translate(294.2,324.45) rotate(-90)" text-anchor="middle" font-size="5.15" dy="0.35em">ROS production</text><text transform="translate(300.2,324.45) rotate(-90)" text-anchor="middle" font-size="5.15" dy="0.35em">(% of control)</text><text x="361.40" y="389.6" font-size="5.0" text-anchor="middle">Ornak</text></g>
<g><text x="454.1" y="285.0" font-size="7.8" text-anchor="middle">L</text><path d="M461.90 345.77V344.94M459.10 344.94H464.70" stroke="#000" stroke-width="1.05" fill="none"/><rect x="457.82" y="345.77" width="8.15" height="9.73" fill="#fffde2" stroke="#000" stroke-width="1.05"/><path d="M461.90 355.50v1.7" stroke="#000" stroke-width="1.05"/><text transform="translate(461.10,359.60) rotate(-45)" text-anchor="end" font-size="4.75" dy="0.7em">Control</text><path d="M475.86 344.32V343.29M473.06 343.29H478.66" stroke="#000" stroke-width="1.05" fill="none"/><rect x="471.79" y="344.32" width="8.15" height="11.18" fill="#fffde2" stroke="#000" stroke-width="1.05"/><path d="M475.86 355.50v1.7" stroke="#000" stroke-width="1.05"/><text transform="translate(475.06,359.60) rotate(-45)" text-anchor="end" font-size="4.75" dy="0.7em">0.062 mg/mL</text><path d="M489.82 343.80V342.98M487.02 342.98H492.62" stroke="#000" stroke-width="1.05" fill="none"/><rect x="485.75" y="343.80" width="8.15" height="11.70" fill="#fffde2" stroke="#000" stroke-width="1.05"/><path d="M489.82 355.50v1.7" stroke="#000" stroke-width="1.05"/><text transform="translate(489.02,359.60) rotate(-45)" text-anchor="end" font-size="4.75" dy="0.7em">0.125 mg/mL</text><path d="M503.78 344.43V343.39M500.98 343.39H506.58" stroke="#000" stroke-width="1.05" fill="none"/><rect x="499.71" y="344.43" width="8.15" height="11.07" fill="#fffde2" stroke="#000" stroke-width="1.05"/><path d="M503.78 355.50v1.7" stroke="#000" stroke-width="1.05"/><text transform="translate(502.98,359.60) rotate(-45)" text-anchor="end" font-size="4.75" dy="0.7em">0.250 mg/mL</text><path d="M517.74 339.56V338.32M514.94 338.32H520.54" stroke="#000" stroke-width="1.05" fill="none"/><rect x="513.66" y="339.56" width="8.15" height="15.94" fill="#fffde2" stroke="#000" stroke-width="1.05"/><path d="M517.74 355.50v1.7" stroke="#000" stroke-width="1.05"/><text class="st" x="517.74" y="337.55" font-size="4.6" letter-spacing="0.16" text-anchor="middle">***</text><text transform="translate(516.94,359.60) rotate(-45)" text-anchor="end" font-size="4.75" dy="0.7em">0.500 mg/mL</text><path d="M531.70 305.51V304.58M528.90 304.58H534.50" stroke="#000" stroke-width="1.05" fill="none"/><rect x="527.62" y="305.51" width="8.15" height="49.99" fill="#fffde2" stroke="#000" stroke-width="1.05"/><path d="M531.70 355.50v1.7" stroke="#000" stroke-width="1.05"/><text class="st" x="531.70" y="303.45" font-size="4.6" letter-spacing="0.16" text-anchor="middle">***</text><text transform="translate(530.90,359.60) rotate(-45)" text-anchor="end" font-size="4.75" dy="0.7em">1.000 mg/mL</text><path d="M450.60 292.95V355.50H543.50" stroke="#111" stroke-width="1.05" fill="none"/><path d="M450.60 355.50h-2.1" stroke="#000" stroke-width="1.05"/><text x="448.20" y="355.50" font-size="4.5" text-anchor="end" dy="0.35em">0</text><path d="M450.60 334.80h-2.1" stroke="#000" stroke-width="1.05"/><text x="448.20" y="334.80" font-size="4.5" text-anchor="end" dy="0.35em">200</text><path d="M450.60 314.10h-2.1" stroke="#000" stroke-width="1.05"/><text x="448.20" y="314.10" font-size="4.5" text-anchor="end" dy="0.35em">400</text><path d="M450.60 293.40h-2.1" stroke="#000" stroke-width="1.05"/><text x="448.20" y="293.40" font-size="4.5" text-anchor="end" dy="0.35em">600</text><text transform="translate(429.6,324.45) rotate(-90)" text-anchor="middle" font-size="5.15" dy="0.35em">ROS production</text><text transform="translate(435.6,324.45) rotate(-90)" text-anchor="middle" font-size="5.15" dy="0.35em">(% of control)</text><text x="496.80" y="389.6" font-size="5.0" text-anchor="middle">Morado</text></g>
</svg></body></html>
